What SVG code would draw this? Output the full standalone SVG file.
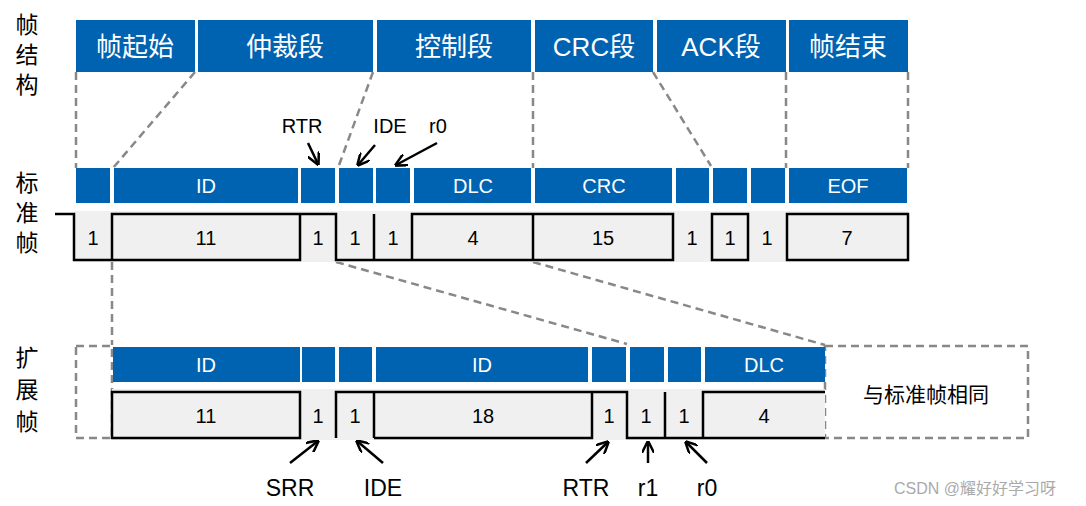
<svg xmlns="http://www.w3.org/2000/svg" width="1086" height="506" viewBox="0 0 1086 506">
<style>
.b{fill:#0063b1}
.tb{fill:#fff;font-family:"Liberation Sans","Noto Sans CJK SC",sans-serif;font-size:26px;text-anchor:middle}
.tw{fill:#fff;font-family:"Liberation Sans",sans-serif;font-size:20px;text-anchor:middle}
.n{fill:#000;font-family:"Liberation Sans",sans-serif;font-size:20px;text-anchor:middle}
.lb{fill:#000;font-family:"Liberation Sans","Noto Sans CJK SC",sans-serif;font-size:23px;text-anchor:middle}
.w{fill:none;stroke:#000;stroke-width:2.5}
.d{fill:none;stroke:#888;stroke-width:2.5;stroke-dasharray:8,5}
.a{fill:none;stroke:#000;stroke-width:2.5;marker-end:url(#ah)}
</style>
<defs><marker id="ah" viewBox="0 0 10 10" refX="9" refY="5" markerWidth="5" markerHeight="5" orient="auto"><path d="M0,0 L10,5 L0,10" fill="none" stroke="#000" stroke-width="2"/></marker></defs>
<rect width="1086" height="506" fill="#fff"/>
<g id="side-labels">
<text class="lb" x="27" y="33">帧</text><text class="lb" x="27" y="63">结</text><text class="lb" x="27" y="93">构</text>
<text class="lb" x="27" y="191">标</text><text class="lb" x="27" y="221">准</text><text class="lb" x="27" y="251">帧</text>
<text class="lb" x="27" y="366">扩</text><text class="lb" x="27" y="398">展</text><text class="lb" x="27" y="430">帧</text>
</g>
<g id="frame-structure">
<rect class="b" x="76" y="20" width="119" height="52"/><text class="tb" x="135" y="56">帧起始</text>
<rect class="b" x="198" y="20" width="175" height="52"/><text class="tb" x="285" y="56">仲裁段</text>
<rect class="b" x="377" y="20" width="154" height="52"/><text class="tb" x="454" y="56">控制段</text>
<rect class="b" x="535" y="20" width="118" height="52"/><text class="tb" x="594" y="56">CRC段</text>
<rect class="b" x="657" y="20" width="129" height="52"/><text class="tb" x="721" y="56">ACK段</text>
<rect class="b" x="789" y="20" width="119" height="52"/><text class="tb" x="848" y="56">帧结束</text>
</g>
<g id="connectors">
<path class="d" d="M76,72V168 M195,72L113,168 M373,72L338,168 M533,72V168 M653,72L711,166 M786,72V168 M908,72V168"/>
<path class="d" d="M112,262V345 M336,262L627,344 M533,262L825,345"/>
<rect class="d" x="76" y="346" width="36" height="92"/>
<rect class="d" x="825" y="346" width="203" height="92"/>
<path class="a" d="M308,143L318,164"/>
<path class="a" d="M375,145L358,165"/>
<path class="a" d="M437,143L396,165"/>
<path class="a" d="M290,463L318,441"/>
<path class="a" d="M383,463L357,441"/>
<path class="a" d="M586,463L608,442"/>
<path class="a" d="M648,463V442"/>
<path class="a" d="M707,463L686,442"/>
</g>
<g id="standard-frame">
<rect class="b" x="76" y="168" width="34" height="35"/>
<rect class="b" x="114" y="168" width="184" height="35"/><text class="tw" x="206" y="193">ID</text>
<rect class="b" x="301" y="168" width="34" height="35"/>
<rect class="b" x="339" y="168" width="34" height="35"/>
<rect class="b" x="376" y="168" width="34" height="35"/>
<rect class="b" x="414" y="168" width="117" height="35"/><text class="tw" x="473" y="193">DLC</text>
<rect class="b" x="535" y="168" width="137" height="35"/><text class="tw" x="604" y="193">CRC</text>
<rect class="b" x="676" y="168" width="33" height="35"/>
<rect class="b" x="713" y="168" width="34" height="35"/>
<rect class="b" x="751" y="168" width="34" height="35"/>
<rect class="b" x="789" y="168" width="118" height="35"/><text class="tw" x="848" y="193">EOF</text>
<rect x="74" y="211" width="834" height="51" fill="#f0f0f0"/>
<path class="w" d="M55,214H74V260H112 M112,214H300V260H112Z M300,214H336V260H412 M374,214V260 M412,214H533V260H412Z M533,214H673V260H533Z M712,214H748V260H712Z M787,214H908V260H787Z"/>
<text class="n" x="93" y="245">1</text><text class="n" x="206" y="245">11</text><text class="n" x="318" y="245">1</text>
<text class="n" x="355" y="245">1</text><text class="n" x="393" y="245">1</text><text class="n" x="473" y="245">4</text>
<text class="n" x="603" y="245">15</text><text class="n" x="692" y="245">1</text><text class="n" x="730" y="245">1</text>
<text class="n" x="767" y="245">1</text><text class="n" x="847" y="245">7</text>
<text class="n" x="302" y="133">RTR</text><text class="n" x="390" y="133">IDE</text><text class="n" x="438" y="133">r0</text>
</g>
<g id="extended-frame">
<rect class="b" x="113" y="347" width="187" height="35"/><text class="tw" x="206" y="372">ID</text>
<rect class="b" x="302" y="347" width="33" height="35"/>
<rect class="b" x="339" y="347" width="33" height="35"/>
<rect class="b" x="376" y="347" width="212" height="35"/><text class="tw" x="482" y="372">ID</text>
<rect class="b" x="592" y="347" width="34" height="35"/>
<rect class="b" x="630" y="347" width="34" height="35"/>
<rect class="b" x="668" y="347" width="33" height="35"/>
<rect class="b" x="705" y="347" width="120" height="35"/><text class="tw" x="764" y="372">DLC</text>
<rect x="112" y="389" width="713" height="51" fill="#f0f0f0"/>
<path class="w" d="M112,392H300V438H112Z M336,438V392H374V438 M374,392H627V438H703 M374,438H592V392 M665,438V392 M703,438V392H825 M703,438H825"/>
<text class="n" x="206" y="423">11</text><text class="n" x="318" y="423">1</text><text class="n" x="355" y="423">1</text>
<text class="n" x="483" y="423">18</text><text class="n" x="609" y="423">1</text><text class="n" x="646" y="423">1</text>
<text class="n" x="684" y="423">1</text><text class="n" x="764" y="423">4</text>
<text class="lb" x="926" y="402" style="font-size:21px">与标准帧相同</text>
<text class="lb" x="290" y="496">SRR</text><text class="lb" x="383" y="496">IDE</text>
<text class="lb" x="586" y="496">RTR</text><text class="lb" x="648" y="496">r1</text><text class="lb" x="707" y="496">r0</text>
</g>
<text x="975" y="494" style="fill:#aaa;font-family:'Liberation Sans','Noto Sans CJK SC',sans-serif;font-size:16px;text-anchor:middle">CSDN @耀好好学习呀</text>
</svg>
